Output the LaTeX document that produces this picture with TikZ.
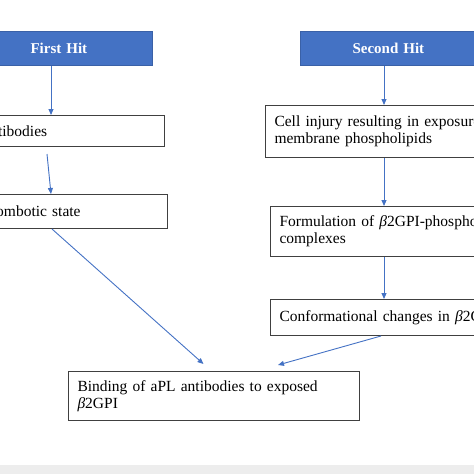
\documentclass[tikz,border=0pt]{standalone}
\usepackage{fontspec}
\setmainfont{Liberation Serif}
\usetikzlibrary{arrows.meta, calc}
\definecolor{hitblue}{HTML}{4472C4}
\tikzset{hit/.style={draw=hitblue!85!black, line width=0.8pt, fill=hitblue, text=white, font=\fontsize{15}{17}\selectfont\bfseries, anchor=north west, align=center, inner xsep=9pt}}
\tikzset{stepbox/.style={draw=black!75, line width=1pt, anchor=north west, align=left, inner xsep=9pt, font=\fontsize{15.5}{17}\selectfont}}
\tikzset{link/.style={draw=hitblue, line width=0.9pt, -{Triangle[length=6pt, width=5pt]}}}

\begin{document}
\begin{tikzpicture}[x=1pt, y=-1pt]
    \useasboundingbox (0,0) rectangle (474,474);
    \clip (0,0) rectangle (474,474);
    \fill[black!7] (0,465) rectangle (474,474);
    \coordinate (c1) at (51,0);
    \coordinate (c2) at (384,0);
    % first hit
    \node[hit, text width=169pt, minimum height=34pt] (hit1) at (-35,31) {First Hit};
    \node[stepbox, text width=172pt, minimum height=31pt] (ab) at (-26,115) {antibodies};
    \node[stepbox, text width=201pt, minimum height=34pt] (thr) at (-52,194) {Prothrombotic state};
    % second hit
    \node[hit, text width=158pt, minimum height=34pt] (hit2) at (300,31) {Second Hit};
    \node[stepbox, text width=240pt, minimum height=52pt] (cell) at (265,105) {Cell injury resulting in exposure of\\membrane phospholipids};
    \node[stepbox, text width=245pt, minimum height=50pt] (form) at (270,206) {Formulation of {\itshape β}2GPI-phospholipid\\complexes};
    \node[stepbox, text width=240pt, minimum height=36pt] (conf) at (270,299) {Conformational changes in {\itshape β}2GPI};
    % result
    \node[stepbox, text width=273pt, minimum height=49pt] (bind) at (68,371) {Binding of aPL antibodies to exposed\\{\itshape β}2GPI};
    \draw[link] (hit1.south -| c1) -- (ab.north -| c1);
    \draw[link] ($(ab.south -| c1)+(-4,7)$) -- (thr.north -| c1);
    \draw[link] (hit2.south -| c2) -- (cell.north -| c2);
    \draw[link] (cell.south -| c2) -- (form.north -| c2);
    \draw[link] (form.south -| c2) -- (conf.north -| c2);
    \draw[link] ($(thr.south -| c1)+(1,0)$) -- ($(bind.north)+(-10.5,-7)$);
    \draw[link] ($(conf.south -| c2)+(-3,0)$) -- ($(bind.north)+(64,-6)$);
\end{tikzpicture}
\end{document}
